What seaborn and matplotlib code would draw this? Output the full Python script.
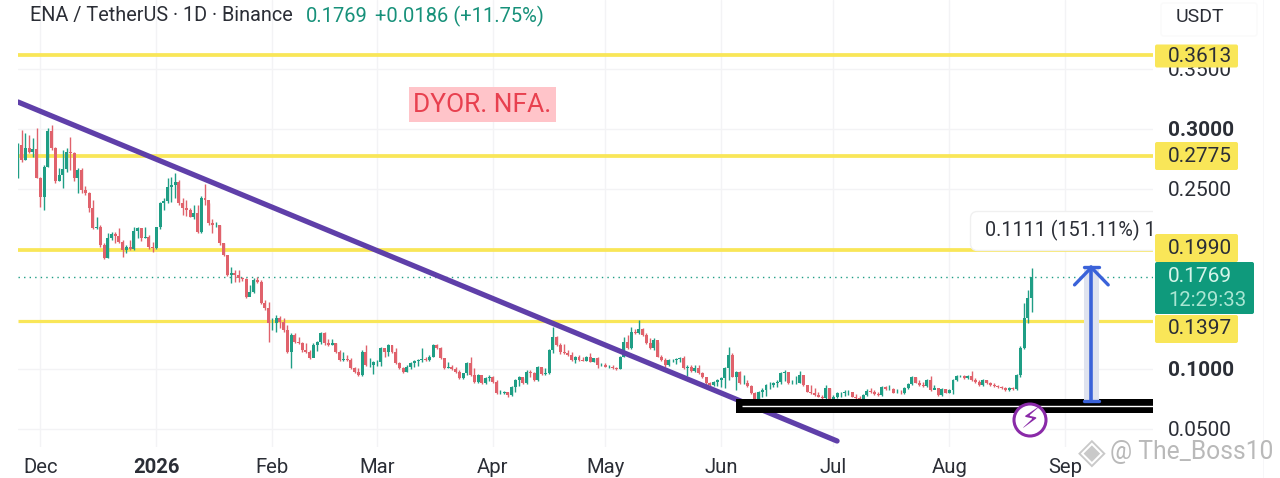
import matplotlib
matplotlib.use("Agg")
import numpy as np
import pandas as pd
import matplotlib.pyplot as plt
import matplotlib.dates as mdates
import seaborn as sns
from matplotlib.patches import FancyBboxPatch, Rectangle, Circle
from matplotlib.transforms import Affine2D

# ------------------------------------------------------------
# DATA (daily candles)
# ------------------------------------------------------------
first_day = "2025-11-25"
first_open = 0.2658

closes = [
    .2866, .2741, .2839, .2811, .2830, .2589, .2430, .2686, .2986, .2839,
    .2569, .2616, .2664, .2811, .2802, .2589, .2658, .2491, .2464, .2339,
    .2172, .2186, .2033, .1922, .2089, .2125, .2108, .2061, .1991, .2014,
    .1997, .2152, .2172, .2089, .2102, .2019, .2005, .2180, .2380, .2402,
    .2514, .2533, .2561, .2380, .2339, .2325, .2269, .2297, .2144, .2422,
    .2408, .2214, .2200, .2200, .2047, .1950, .1783, .1797, .1783, .1755,
    .1747, .1602, .1644, .1741, .1727, .1547, .1505, .1380, .1381, .1422,
    .1394, .1325, .1144, .1283, .1228, .1214, .1158, .1144, .1089, .1200,
    .1228, .1297, .1214, .1200, .1219, .1144, .1075, .1081, .1075, .1006,
    .0978, .0950, .1144, .1033, .1033, .1061, .1061, .1172, .1144, .1200,
    .1144, .1047, .1006, .0978, .1019, .1047, .1067, .1075, .1081, .1075,
    .1103, .1200, .1172, .1089, .1006, .1019, .0997, .0978, .0922, .0964,
    .1047, .0950, .0894, .0950, .0881, .0922, .0936, .0894, .0797, .0797,
    .0811, .0783, .0853, .0908, .0931, .0881, .0978, .0969, .0908, .1019,
    .0958, .0964, .1158, .1269, .1200, .1144, .1131, .1117, .1075, .1103,
    .1075, .1069, .1103, .1061, .1089, .1033, .1033, .1019, .1019, .1006,
    .0997, .1103, .1228, .1172, .1311, .1297, .1331, .1283, .1214, .1172,
    .1242, .1103, .1075, .1033, .1075, .1075, .1081, .1089, .1006, .1019,
    .0986, .1006, .0964, .0931, .0881, .0867, .0894, .0908, .0922, .1006,
    .1117, .0936, .0978, .0881, .0881, .0858, .0797, .0728, .0811, .0825,
    .0867, .0867, .0881, .0894, .0964, .0978, .0881, .0881, .0886, .0950,
    .0867, .0811, .0797, .0783, .0769, .0756, .0839, .0714, .0769, .0797,
    .0803, .0811, .0811, .0769, .0756, .0736, .0783, .0819, .0811, .0792,
    .0783, .0847, .0831, .0831, .0803, .0803, .0797, .0839, .0875, .0931,
    .0886, .0867, .0858, .0908, .0825, .0839, .0783, .0831, .0803, .0825,
    .0908, .0942, .0942, .0922, .0942, .0908, .0894, .0867, .0908, .0881,
    .0867, .0858, .0847, .0839, .0825, .0844, .0831, .0950, .1172, .1422,
    .1589, .1769,
]
highs = [
    .2880, .2991, .2964, .2950, .2922, .3005, .2602, .2700, .3005, .3033,
    .2852, .2672, .2825, .2839, .2936, .2811, .2672, .2672, .2525, .2477,
    .2408, .2264, .2200, .2047, .2136, .2144, .2144, .2172, .2075, .2033,
    .2075, .2180, .2186, .2172, .2186, .2116, .2061, .2186, .2394, .2422,
    .2589, .2602, .2630, .2575, .2422, .2408, .2339, .2366, .2366, .2441,
    .2541, .2380, .2247, .2227, .2200, .2047, .1950, .1852, .1825, .1825,
    .1769, .1755, .1700, .1755, .1769, .1741, .1575, .1561, .1422, .1450,
    .1442, .1422, .1367, .1303, .1297, .1269, .1228, .1214, .1158, .1214,
    .1236, .1311, .1311, .1247, .1247, .1219, .1158, .1144, .1117, .1089,
    .1019, .1006, .1158, .1200, .1089, .1069, .1075, .1186, .1158, .1208,
    .1200, .1172, .1061, .1019, .1031, .1058, .1075, .1086, .1172, .1103,
    .1114, .1208, .1206, .1186, .1089, .1061, .1033, .1019, .0992, .0969,
    .1058, .1103, .1006, .0958, .0922, .0931, .0947, .0942, .0908, .0825,
    .0819, .0811, .0858, .0919, .0942, .0922, .0992, .0992, .0978, .1025,
    .1006, .1006, .1164, .1353, .1275, .1219, .1206, .1158, .1144, .1108,
    .1117, .1103, .1108, .1136, .1094, .1103, .1053, .1047, .1033, .1033,
    .1019, .1108, .1269, .1283, .1353, .1331, .1408, .1339, .1297, .1256,
    .1261, .1228, .1117, .1089, .1081, .1086, .1089, .1097, .1108, .1033,
    .1033, .1033, .1033, .0978, .0936, .0894, .0900, .0914, .0931, .1019,
    .1186, .1136, .0986, .0986, .0950, .0908, .0867, .0811, .0819, .0839,
    .0875, .0894, .0894, .0908, .0978, .0992, .0978, .0908, .0942, .0986,
    .0922, .0867, .0867, .0839, .0811, .0783, .0867, .0839, .0783, .0808,
    .0811, .0825, .0825, .0811, .0792, .0775, .0792, .0831, .0844, .0825,
    .0811, .0858, .0858, .0864, .0839, .0831, .0825, .0847, .0886, .0942,
    .0936, .0908, .0894, .0914, .0942, .0867, .0844, .0839, .0833, .0833,
    .0914, .0950, .0950, .0947, .0950, .0986, .0922, .0908, .0914, .0908,
    .0894, .0881, .0869, .0858, .0850, .0853, .0847, .0958, .1192, .1547,
    .1658, .1839,
]
lows = [
    .2589, .2727, .2741, .2797, .2769, .2589, .2352, .2325, .2686, .2825,
    .2552, .2569, .2505, .2644, .2658, .2569, .2469, .2464, .2450, .2311,
    .2164, .2164, .2019, .1914, .1922, .2075, .2047, .2047, .1936, .1964,
    .1991, .1991, .2089, .2069, .2089, .1997, .1977, .1997, .2164, .2325,
    .2386, .2394, .2422, .2366, .2283, .2275, .2264, .2247, .2136, .2136,
    .2366, .2200, .2136, .2186, .2033, .1941, .1775, .1714, .1727, .1727,
    .1736, .1589, .1630, .1630, .1714, .1541, .1491, .1227, .1325, .1311,
    .1339, .1311, .1131, .1006, .1219, .1206, .1144, .1136, .1081, .1108,
    .1153, .1208, .1200, .1192, .1197, .1136, .1069, .1069, .1069, .0997,
    .0969, .0942, .0942, .1025, .1019, .0958, .1025, .1025, .1097, .1108,
    .1136, .1042, .0997, .0969, .0978, .0997, .1014, .1028, .1061, .1069,
    .1069, .1097, .1164, .1081, .0997, .1011, .0992, .0969, .0914, .0914,
    .0950, .0942, .0886, .0886, .0875, .0875, .0903, .0886, .0792, .0792,
    .0792, .0769, .0778, .0806, .0861, .0875, .0875, .0931, .0903, .0903,
    .0953, .0953, .0958, .1136, .1192, .1125, .1122, .1108, .1067, .1053,
    .1069, .1064, .1064, .1056, .1056, .1011, .1028, .1014, .1011, .1000,
    .0992, .0997, .1097, .1164, .1167, .1289, .1292, .1278, .1206, .1164,
    .1158, .1097, .1067, .1019, .1028, .1056, .1042, .1056, .1000, .0944,
    .0978, .0978, .0958, .0922, .0875, .0858, .0858, .0858, .0847, .0839,
    .0908, .0931, .0825, .0875, .0875, .0853, .0792, .0700, .0714, .0764,
    .0775, .0831, .0847, .0853, .0875, .0903, .0875, .0875, .0875, .0881,
    .0861, .0806, .0792, .0778, .0764, .0750, .0750, .0708, .0708, .0761,
    .0764, .0775, .0783, .0764, .0747, .0728, .0731, .0778, .0803, .0783,
    .0775, .0778, .0825, .0825, .0797, .0797, .0792, .0792, .0833, .0867,
    .0881, .0861, .0853, .0853, .0819, .0831, .0778, .0778, .0797, .0797,
    .0792, .0903, .0931, .0917, .0914, .0903, .0886, .0861, .0861, .0875,
    .0861, .0853, .0842, .0831, .0817, .0819, .0825, .0825, .0936, .1164,
    .1381, .1478,
]

level_prices = [0.3613, 0.2775, 0.1990, 0.1397]
level_labels = ["0.3613", "0.2775", "0.1990", "0.1397"]
level_label_y = [56, 156, 248, 329]

last_price = 0.1769
trend_dates = ["2025-11-25", "2026-07-02"]
trend_prices = [0.3225, 0.0400]

zone_start = "2026-06-05"
zone_top, zone_mid, zone_bottom = 0.0750, 0.0692, 0.0633

move_date = "2026-09-08"
move_from, move_to = 0.0735, 0.1846

y_ticks = [0.05, 0.10, 0.25, 0.30, 0.35]
y_labels = ["0.0500", "0.1000", "0.2500", "0.3000", "0.3500"]
y_bold = ["0.1000", "0.3000"]

x_tick_dates = ["2025-12-01", "2026-01-01", "2026-02-01", "2026-03-01", "2026-04-01",
                "2026-05-01", "2026-06-01", "2026-07-01", "2026-08-01", "2026-09-01"]
x_labels = ["Dec", "2026", "Feb", "Mar", "Apr", "May", "Jun", "Jul", "Aug", "Sep"]

UP = "#1f9e85"
DOWN = "#e0626c"
YELLOW = "#f9e658"
PURPLE = "#5f3fa9"
BLUE = "#3a62d9"
TEXT = "#2b2e36"

# ------------------------------------------------------------
# FIGURE
# ------------------------------------------------------------
sns.set_theme(style="white")
plt.rcParams["font.family"] = ["Roboto", "DejaVu Sans"]

W, H = 1280, 478
fig = plt.figure(figsize=(W / 100, H / 100), dpi=100, facecolor="white")
ax = fig.add_axes([18 / W, (H - 447) / H, (1153 - 18) / W, 447 / H])

# pixel coordinates measured from the top left of the picture
pix = Affine2D().scale(1, -1).translate(0, H)

df = pd.DataFrame({"high": highs, "low": lows, "close": closes})
df["day"] = mdates.date2num(pd.date_range(first_day, periods=len(df), freq="D"))
df["open"] = [first_open] + closes[:-1]
df["bottom"] = df[["open", "close"]].min(axis=1)
df["height"] = (df["close"] - df["open"]).abs()

# levels under the candles
ax.hlines(level_prices[:3], df["day"].iloc[0], df["day"].iloc[0] + 320, color=YELLOW, lw=2.7, zorder=1)
ax.hlines(level_prices[3], df["day"].iloc[0], df["day"].iloc[0] + 320, color=YELLOW, lw=2.3, zorder=1)
ax.axhline(last_price, color=UP, lw=1, ls=(0, (1, 3)), zorder=1)

for is_up, color in [(True, UP), (False, DOWN)]:
    part = df[(df["close"] >= df["open"]) == is_up]
    ax.vlines(part["day"], part["low"], part["high"], color=color, lw=1.0, zorder=2)
    sns.barplot(data=part, x="day", y="height", bottom=part["bottom"], native_scale=True,
                color=color, saturation=1, width=0.8, errorbar=None, linewidth=0, zorder=2, ax=ax)

trend = pd.DataFrame({"day": mdates.date2num(pd.to_datetime(trend_dates)), "price": trend_prices})
sns.lineplot(data=trend, x="day", y="price", color=PURPLE, lw=3.8, zorder=3, ax=ax)

# support zone
zx = mdates.date2num(pd.Timestamp(zone_start))
ax.add_patch(Rectangle((zx, zone_bottom), 400, zone_top - zone_bottom, color="black", lw=0, zorder=3))
ax.hlines(zone_mid, zx + 1.5, zx + 400, color="white", lw=1.0, zorder=3)

# measured move arrow
mx = mdates.date2num(pd.Timestamp(move_date))
ax.add_patch(Rectangle((mx - 2.1, move_from), 4.2, move_to - move_from, color="#dfe3ef", lw=0, zorder=4))
ax.plot([mx, mx], [move_from, move_to], color=BLUE, lw=2.6, zorder=5)
ax.plot([mx - 4.5, mx, mx + 4.5], [move_to - 0.0145, move_to, move_to - 0.0145], color=BLUE, lw=2.4, zorder=5)
for yy in (move_from, move_to):
    ax.plot([mx - 2.1, mx + 2.1], [yy, yy], color=BLUE, lw=2.4, zorder=5)

# axes
ax.set_xlim(df["day"].iloc[0], df["day"].iloc[0] + 1135 / 3.74)
ax.set_ylim(0.3 + (129 - 447) / 1200, 0.3 + 129 / 1200)
ax.set_xticks(mdates.date2num(pd.to_datetime(x_tick_dates)))
ax.set_xticklabels(x_labels, fontsize=14.6, color=TEXT)
ax.set_yticks(y_ticks)
ax.set_yticklabels(y_labels, fontsize=15, color=TEXT)
ax.yaxis.tick_right()
ax.tick_params(axis="x", length=0, pad=8)
ax.tick_params(axis="y", length=0, pad=11)
ax.set_xlabel("")
ax.set_ylabel("")
ax.grid(True, color="#f3f3f5", lw=1)
ax.set_axisbelow(True)
sns.despine(ax=ax, left=True, bottom=True, right=True, top=True)
for lab in ax.get_yticklabels():
    if lab.get_text() in y_bold:
        lab.set_fontweight("bold")
for lab in ax.get_xticklabels():
    if lab.get_text() == "2026":
        lab.set_fontweight("bold")

# tooltip of the measured move, cut by the price scale
ax.add_patch(FancyBboxPatch((975, 216), 200, 30, boxstyle="round,pad=4.5,rounding_size=7", transform=pix,
                            fc="white", ec="#f0f0f0", lw=1, zorder=6))
ax.text(985, 230, "0.1111 (151.11%) 1", transform=pix, fontsize=14.2, color=TEXT, va="center", zorder=7, clip_on=True)

# alert badge
fig.add_artist(Circle((1030, 420), 16, transform=pix, fc="white", ec="#8a2aa8", lw=2.2, zorder=2))
fig.text(1030, 420, "\u26a1", transform=pix, fontsize=20, color="#8a2aa8", ha="center", va="center",
         family="DejaVu Sans", zorder=3)

# header
fig.text(30, 16, "ENA / TetherUS · 1D · Binance", transform=pix, fontsize=14.35, color=TEXT, va="center")
fig.text(306, 16, "0.1769", transform=pix, fontsize=14.5, color="#17917a", va="center")
fig.text(375, 16, "+0.0186 (+11.75%)", transform=pix, fontsize=14.5, color="#17917a", va="center")

# note
fig.add_artist(Rectangle((409, 87), 147, 35, transform=pix, fc="#ffc4c9", lw=0, zorder=2))
fig.text(482.5, 105, "DYOR. NFA.", transform=pix, fontsize=19, color="#e8404f", ha="center", va="center", zorder=3)

# price scale
fig.add_artist(FancyBboxPatch((1161, 3), 96, 33, boxstyle="round,pad=0,rounding_size=3", transform=pix,
                              fc="white", ec="#fafafa", lw=1, zorder=1))
fig.text(1200, 17, "USDT", transform=pix, fontsize=14, color=TEXT, ha="center", va="center", zorder=3)
fig.add_artist(Rectangle((1263, 0), 1, 478, transform=pix, fc="#f6f6f8", lw=0, zorder=1))

box_h = [23, 28, 28, 28]
for lab, yy, bh in zip(level_labels, level_label_y, box_h):
    fig.add_artist(FancyBboxPatch((1155, yy - bh / 2), 83, bh, boxstyle="round,pad=0,rounding_size=2", transform=pix,
                                  fc=YELLOW, lw=0, zorder=2))
    fig.text(1200, yy, lab, transform=pix, fontsize=15, color=TEXT, ha="center", va="center", zorder=3)

fig.add_artist(FancyBboxPatch((1155, 262), 99, 52, boxstyle="round,pad=0,rounding_size=2", transform=pix,
                              fc="#0f9a7c", lw=0, zorder=2))
fig.text(1200, 277, "0.1769", transform=pix, fontsize=15, color="#d6f5ea", ha="center", va="center", zorder=3)
fig.text(1168, 300, "12:29:33", transform=pix, fontsize=14.6, color="#a9e6d3", va="center", zorder=3)

# watermark
fig.text(1092, 453, "\u25c8", transform=pix, fontsize=26, color="#c9c9c9", ha="center", va="center",
         family="DejaVu Sans", zorder=3)
fig.text(1110, 452, "@ The_Boss10", transform=pix, fontsize=17.7, color="#b9b9b9", va="center", zorder=3)

fig.savefig("out.png", dpi=100)
